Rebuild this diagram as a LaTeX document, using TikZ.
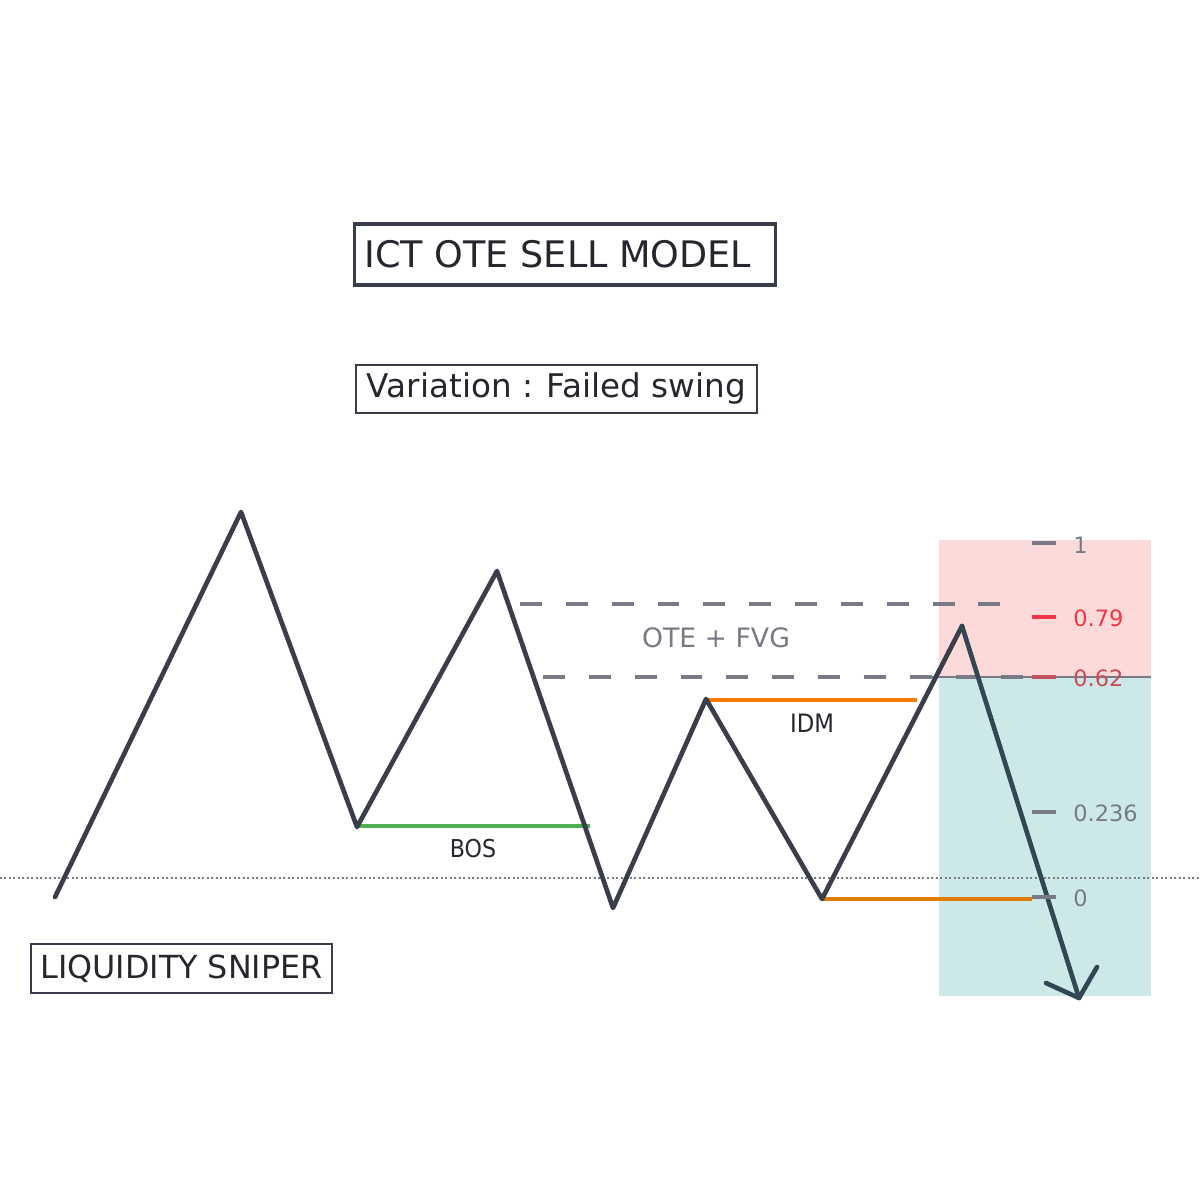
\documentclass[tikz,border=0pt]{standalone}
\usepackage{fontspec}
\setmainfont{DejaVu Sans}
\newfontfamily\condfont{DejaVu Sans Condensed}
\usetikzlibrary{arrows.meta}
\definecolor{zig}{HTML}{3A3D4A}
\definecolor{txt}{HTML}{26272E}
\definecolor{pinkz}{HTML}{FDDADA}
\definecolor{tealz}{HTML}{CCE9E8}
\definecolor{grayl}{HTML}{787B86}
\definecolor{redl}{HTML}{F23645}
\definecolor{greenl}{HTML}{4CAF50}
\definecolor{orangel}{HTML}{F57C00}
\tikzset{
  zigline/.style={draw=zig,line width=3.3pt,line join=round,line cap=round},
  lvl/.style={draw=grayl,line width=2.5pt,dash pattern=on 15.6pt off 17pt},
  tick/.style={draw=grayl,line width=2.2pt},
  lbl/.style={font=\fontsize{16}{18}\selectfont,text=grayl,anchor=west,inner sep=0pt},
  boxed/.style={draw=zig,inner sep=0pt,text=txt},
}
\begin{document}
\begin{tikzpicture}[x=0.025cm,y=-0.025cm]
\useasboundingbox[fill=white] (0,0) rectangle (1200,1200);
% zones
\fill[pinkz] (939,540) rectangle (1151,677);
\fill[tealz] (939,677) rectangle (1151,996);
% dotted baseline
\coordinate (dl) at (0,878);
\coordinate (dr) at (1200,878);
\draw[grayl,line width=1.2pt,dotted] (dl) -- (dr);
% zigzag points
\coordinate (p0) at (55,897);
\coordinate (p1) at (241,512);
\coordinate (p2) at (357,827);
\coordinate (p3) at (497,571);
\coordinate (p4) at (613,908);
\coordinate (p5) at (706,699);
\coordinate (p6) at (822,899);
\coordinate (p7) at (962,626);
\coordinate (p8) at (1079,998);
% dashed levels
\coordinate (u1) at (520,604); \coordinate (u2) at (1003,604);
\coordinate (l1) at (543,677); \coordinate (l2) at (1026,677);
\draw[lvl] (u1) -- (u2);
\draw[lvl] (l1) -- (l2);
\coordinate (s1) at (913,677); \coordinate (s2) at (1151,677);
\draw[grayl,line width=1.2pt] (s1) -- (s2);
% BOS / IDM lines
\coordinate (b1) at (357,826); \coordinate (b2) at (590,826);
\draw[greenl,line width=2.4pt] (b1) -- (b2);
\coordinate (i1) at (706,700); \coordinate (i2) at (917,700);
\draw[orangel,line width=2.4pt] (i1) -- (i2);
\coordinate (o1) at (822,899); \coordinate (o2) at (1032,899);
\draw[orangel!80!olive,line width=2.6pt] (o1) -- (o2);
% zigzag
\draw[zigline] (p0) -- (p1) -- (p2) -- (p3) -- (p4) -- (p5) -- (p6) -- (p7);
\draw[zigline,draw=zig!85!teal] (p7) -- (p8);
\coordinate (w1) at (1046,983);
\coordinate (w2) at (1097,967);
\draw[zigline,draw=zig!85!teal] (w1) -- (p8) -- (w2);
% ticks
\foreach \y/\n in {543/t1,812/t4,897/t5}{
  \coordinate (\n a) at (1032,\y); \coordinate (\n b) at (1056,\y);
  \draw[tick] (\n a) -- (\n b);}
\coordinate (t2a) at (1032,617); \coordinate (t2b) at (1056,617);
\draw[tick,draw=redl] (t2a) -- (t2b);
\coordinate (t3a) at (1032,677); \coordinate (t3b) at (1056,677);
\draw[tick,draw=redl!60!grayl] (t3a) -- (t3b);
% level labels
\node[lbl] (n1) at (1073,545) {1};
\node[lbl,text=redl] (n79) at (1073,618) {0.79};
\node[lbl,text=redl!70!grayl] (n62) at (1073,678) {0.62};
\node[lbl] (n236) at (1073,813) {0.236};
\node[lbl] (n0) at (1073,898) {0};
% texts
\node[font=\condfont\fontsize{17.5}{19}\selectfont,text=txt] (bos) at (473,849) {BOS};
\node[font=\condfont\fontsize{18}{20}\selectfont,text=txt] (idm) at (812,723) {IDM};
\node[font=\fontsize{19}{21}\selectfont,text=grayl] (ote) at (716,638) {OTE + FVG};
% boxes
\node[boxed,line width=2.2pt,minimum width=10.5cm,minimum height=1.525cm] (title) at (565,254.5)
  {\fontsize{26}{29}\selectfont ICT OTE SELL MODEL\hspace*{0.35cm}};
\node[boxed,line width=0.9pt,minimum width=10.025cm,minimum height=1.2cm] (sub) at (556.5,389)
  {\fontsize{23.2}{26}\selectfont Variation : Failed swing};
\node[boxed,line width=0.9pt,minimum width=7.525cm,minimum height=1.225cm] (liq) at (181.5,968.5)
  {\fontsize{22.6}{25}\selectfont LIQUIDITY SNIPER};
\end{tikzpicture}
\end{document}
